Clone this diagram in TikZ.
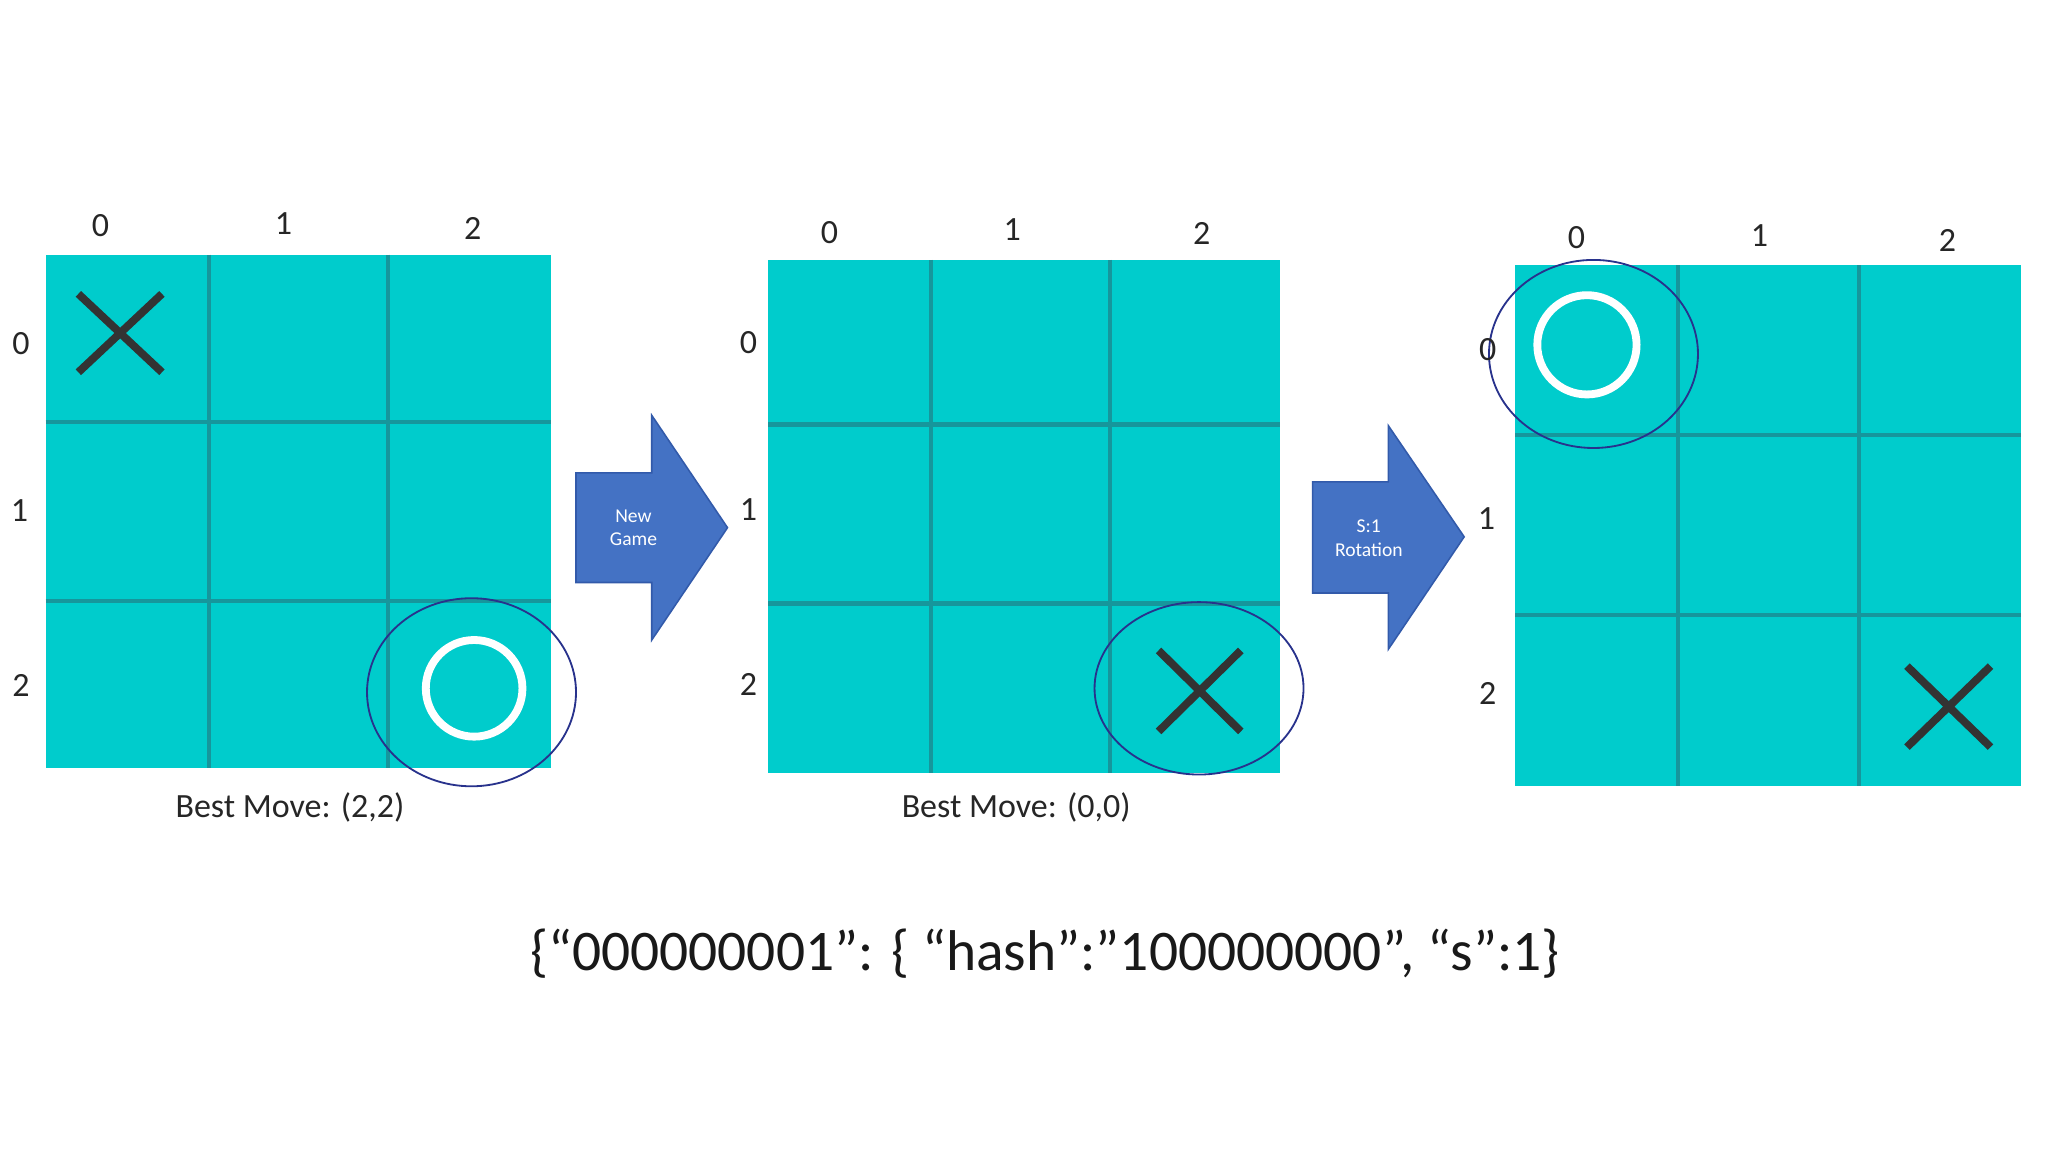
\documentclass[tikz,border=0pt]{standalone}
\usepackage{fontspec}
\setmainfont{Carlito}
\begin{document}
\begin{tikzpicture}[x=0.5pt,y=-0.5pt,
  board/.style={fill=cyanb,draw=none},
  gl/.style={draw=gridc,line width=1.6pt},
  lab/.style={font=\fontsize{13}{13}\selectfont,text=black!85},
  xm/.style={draw=black!80,line width=3pt},
  om/.style={draw=white,line width=3pt},
  ring/.style={draw=ringc,line width=0.7pt},
  arr/.style={fill=arrc,draw=arrd,line width=0.6pt},
  atext/.style={font=\fontsize{7.5}{9}\selectfont,text=white,align=center}]
\definecolor{cyanb}{RGB}{0,204,204}
\definecolor{gridc}{RGB}{22,150,156}
\definecolor{ringc}{RGB}{40,50,140}
\definecolor{arrc}{RGB}{68,114,196}
\definecolor{arrd}{RGB}{50,90,170}
\useasboundingbox (0,0) rectangle (1568,882);
% board 1
\fill[board] (35,195) rectangle (422,588);
\draw[gl] (160,195)--(160,588) (297,195)--(297,588) (35,323)--(422,323) (35,460)--(422,460);
\draw[xm] (60,225)--(124,285) (124,225)--(60,285);
\draw[om] (363,527) circle (37);
\draw[ring] (361,530) ellipse (80 and 72);
\foreach \t/\x/\y in {0/77/173,1/217/171,2/362/175,0/16/263,1/15/391,2/16/525}
  \node[lab] at (\x,\y) {\t};
\node[lab] (bm1) at (222,618) {Best Move: (2,2)};
% arrow 1
\draw[arr] (441,362)--(499,362)--(499,318)--(557,404)--(499,490)--(499,446)--(441,446)--cycle;
\node[atext] (a1) at (485,404) {New\\Game};
% board 2
\fill[board] (588,199) rectangle (980,592);
\draw[gl] (713,199)--(713,592) (850,199)--(850,592) (588,325)--(980,325) (588,462)--(980,462);
\draw[xm] (887,498)--(950,560) (950,498)--(887,560);
\draw[ring] (918,527) ellipse (80 and 66);
\foreach \t/\x/\y in {0/635/178,1/775/176,2/920/179,0/573/262,1/573/390,2/573/524}
  \node[lab] at (\x,\y) {\t};
\node[lab] (bm2) at (778,618) {Best Move: (0,0)};
% arrow 2
\draw[arr] (1005,369)--(1063,369)--(1063,326)--(1121,411)--(1063,497)--(1063,454)--(1005,454)--cycle;
\node[atext] (a2) at (1048,412) {S:1\\Rotation};
% board 3
\fill[board] (1160,203) rectangle (1547,602);
\draw[gl] (1285,203)--(1285,602) (1423,203)--(1423,602) (1160,333)--(1547,333) (1160,471)--(1547,471);
\draw[xm] (1460,510)--(1524,572) (1524,510)--(1460,572);
\draw[om] (1215,264) circle (38);
\draw[ring] (1220,271) ellipse (80 and 72);
\foreach \t/\x/\y in {0/1207/182,1/1347/180,2/1491/184,0/1139/268,1/1138/397,2/1139/531}
  \node[lab] at (\x,\y) {\t};
% json
\node[font=\fontsize{22}{22}\selectfont,text=black!90] (js) at (800,730) {\{“000000001”: \{ “hash”:”100000000”, “s”:1\}};
\end{tikzpicture}
\end{document}
